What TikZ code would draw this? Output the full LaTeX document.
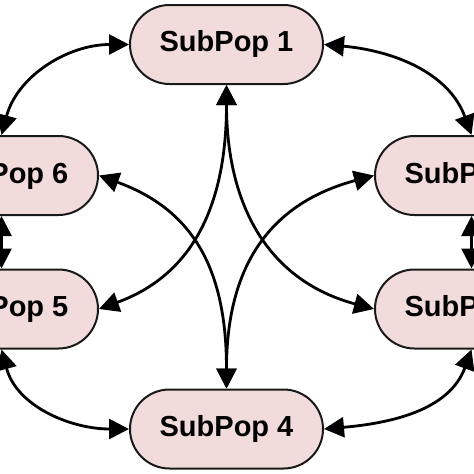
\documentclass[tikz,border=0pt]{standalone}
\usepackage{fontspec}
\setmainfont{Liberation Sans}
\usetikzlibrary{arrows.meta}
\definecolor{popfill}{RGB}{242,220,219}
\begin{document}
\begin{tikzpicture}[x=1pt,y=1pt,
  pop/.style={draw=black!90, line width=2pt, fill=popfill, rounded corners=39.5pt,
    minimum width=193pt, minimum height=79pt, inner sep=0pt,
    font=\fontsize{29}{34}\selectfont\bfseries},
  link/.style={line width=2.8pt,
    {Triangle[length=20pt,width=20pt]}-{Triangle[length=20pt,width=20pt]}}]
\useasboundingbox (0,0) rectangle (474,-474);
\clip (0,0) rectangle (474,-474);
\node[pop] (n1) at (226.5,-44.5) {SubPop 1};
\node[pop] (n2) at (471.5,-175.5) {SubPop 2};
\node[pop] (n3) at (471.5,-309) {SubPop 3};
\node[pop] (n4) at (226.5,-429) {SubPop 4};
\node[pop] (n5) at (1.5,-309) {SubPop 5};
\node[pop] (n6) at (1.5,-175.5) {SubPop 6};
\draw[link] (n1.west) to[out=180,in=75] (n6.north);
\draw[link] (n1.east) to[out=-5,in=110] (n2.north);
\draw[link] (n6.south) -- (n5.north);
\draw[link] (n2.south) -- (n3.north);
\draw[link] (n4.west) to[out=180,in=-75] (n5.south);
\draw[link] (n4.east) to[out=5,in=-110] (n3.south);
\draw[link] (n1.south) to[out=-90,in=20,out distance=120pt,in distance=100pt] (n5.east);
\draw[link] (n1.south) to[out=-90,in=165,out distance=120pt,in distance=110pt] (n3.west);
\draw[link] (n4.north) to[out=90,in=-20,out distance=120pt,in distance=100pt] (n6.east);
\draw[link] (n4.north) to[out=90,in=-165,out distance=120pt,in distance=110pt] (n2.west);
\end{tikzpicture}
\end{document}
